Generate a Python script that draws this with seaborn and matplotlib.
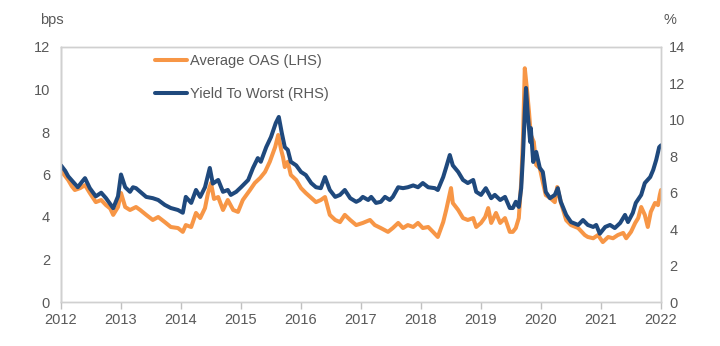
import matplotlib
matplotlib.use("Agg")
import matplotlib.pyplot as plt
import seaborn as sns
import pandas as pd

sns.set_style("white")
plt.rcParams["font.family"] = ["Liberation Sans", "DejaVu Sans"]

# Average option-adjusted spread (left axis, bps), decimal-year dates
oas_dates = [
    2012.00, 2012.05, 2012.12, 2012.18, 2012.23, 2012.32, 2012.40, 2012.48, 2012.58, 2012.67,
    2012.75, 2012.82, 2012.87, 2012.95, 2013.00, 2013.07, 2013.15, 2013.25, 2013.32, 2013.42,
    2013.53, 2013.62, 2013.73, 2013.83, 2013.95, 2014.03, 2014.08, 2014.17, 2014.25, 2014.32,
    2014.40, 2014.45, 2014.50, 2014.55, 2014.62, 2014.70, 2014.78, 2014.87, 2014.95, 2015.03,
    2015.15, 2015.23, 2015.32, 2015.40, 2015.48, 2015.57, 2015.62, 2015.67, 2015.70, 2015.73,
    2015.78, 2015.83, 2015.92, 2016.00, 2016.08, 2016.17, 2016.25, 2016.33, 2016.40, 2016.48,
    2016.57, 2016.65, 2016.73, 2016.82, 2016.92, 2017.03, 2017.15, 2017.23, 2017.33, 2017.45,
    2017.53, 2017.62, 2017.70, 2017.78, 2017.87, 2017.95, 2018.03, 2018.12, 2018.20, 2018.28,
    2018.37, 2018.42, 2018.50, 2018.53, 2018.62, 2018.70, 2018.78, 2018.87, 2018.92, 2019.00,
    2019.07, 2019.12, 2019.17, 2019.25, 2019.32, 2019.40, 2019.48, 2019.53, 2019.58, 2019.63,
    2019.67, 2019.70, 2019.73, 2019.77, 2019.80, 2019.83, 2019.88, 2019.92, 2019.98, 2020.03,
    2020.08, 2020.15, 2020.23, 2020.27, 2020.33, 2020.42, 2020.50, 2020.62, 2020.73, 2020.78,
    2020.87, 2020.95, 2021.03, 2021.12, 2021.20, 2021.28, 2021.37, 2021.42, 2021.50, 2021.57,
    2021.62, 2021.67, 2021.73, 2021.78, 2021.83, 2021.90, 2021.95, 2021.98, 2022.00,
]
oas_values = [
    6.15, 6.00, 5.74, 5.45, 5.27, 5.36, 5.50, 5.13, 4.70, 4.80,
    4.56, 4.40, 4.10, 4.47, 5.13, 4.47, 4.33, 4.47, 4.33, 4.10,
    3.86, 4.00, 3.76, 3.53, 3.48, 3.30, 3.62, 3.53, 4.19, 3.95,
    4.42, 5.13, 5.60, 4.85, 4.94, 4.33, 4.80, 4.33, 4.24, 4.80,
    5.27, 5.60, 5.84, 6.12, 6.60, 7.30, 7.86, 7.15, 6.82, 6.35,
    6.60, 5.98, 5.74, 5.36, 5.13, 4.90, 4.70, 4.80, 4.94, 4.10,
    3.86, 3.76, 4.10, 3.86, 3.62, 3.72, 3.86, 3.62, 3.48, 3.30,
    3.48, 3.72, 3.48, 3.62, 3.53, 3.72, 3.48, 3.53, 3.30, 3.06,
    3.76, 4.33, 5.36, 4.66, 4.33, 3.95, 3.86, 3.95, 3.53, 3.72,
    4.00, 4.42, 3.72, 4.19, 3.72, 3.95, 3.30, 3.30, 3.48, 3.95,
    5.64, 7.72, 11.00, 9.88, 8.94, 7.86, 7.53, 6.45, 6.30, 5.64,
    5.03, 4.90, 4.70, 5.41, 4.70, 3.85, 3.62, 3.48, 3.15, 3.06,
    3.00, 3.15, 2.82, 3.06, 3.00, 3.15, 3.25, 3.00, 3.30, 3.72,
    3.95, 4.47, 4.10, 3.53, 4.24, 4.66, 4.56, 5.03, 5.27,
]

# Yield to worst (right axis, %), decimal-year dates
ytw_dates = [
    2012.00, 2012.07, 2012.12, 2012.20, 2012.28, 2012.35, 2012.40, 2012.48, 2012.58, 2012.67,
    2012.75, 2012.87, 2012.95, 2013.00, 2013.07, 2013.15, 2013.20, 2013.25, 2013.32, 2013.42,
    2013.53, 2013.62, 2013.73, 2013.83, 2013.95, 2014.03, 2014.08, 2014.17, 2014.25, 2014.32,
    2014.40, 2014.48, 2014.53, 2014.62, 2014.70, 2014.78, 2014.83, 2014.92, 2015.00, 2015.12,
    2015.20, 2015.28, 2015.33, 2015.42, 2015.50, 2015.58, 2015.63, 2015.68, 2015.73, 2015.78,
    2015.83, 2015.92, 2016.00, 2016.08, 2016.17, 2016.25, 2016.33, 2016.40, 2016.48, 2016.57,
    2016.65, 2016.73, 2016.82, 2016.92, 2016.98, 2017.03, 2017.12, 2017.17, 2017.25, 2017.33,
    2017.40, 2017.48, 2017.53, 2017.62, 2017.70, 2017.78, 2017.87, 2017.95, 2018.03, 2018.12,
    2018.23, 2018.28, 2018.37, 2018.42, 2018.48, 2018.53, 2018.62, 2018.70, 2018.78, 2018.87,
    2018.92, 2019.00, 2019.08, 2019.17, 2019.23, 2019.32, 2019.40, 2019.48, 2019.53, 2019.58,
    2019.63, 2019.67, 2019.70, 2019.73, 2019.75, 2019.78, 2019.82, 2019.83, 2019.87, 2019.92,
    2019.98, 2020.03, 2020.08, 2020.15, 2020.23, 2020.28, 2020.33, 2020.42, 2020.50, 2020.62,
    2020.70, 2020.78, 2020.87, 2020.92, 2020.98, 2021.07, 2021.15, 2021.23, 2021.32, 2021.40,
    2021.45, 2021.53, 2021.58, 2021.67, 2021.73, 2021.82, 2021.87, 2021.92, 2021.97, 2022.00,
]
ytw_values = [
    7.50, 7.20, 6.90, 6.60, 6.30, 6.60, 6.80, 6.25, 5.80, 6.00,
    5.70, 5.15, 5.80, 7.00, 6.30, 6.05, 6.30, 6.25, 6.05, 5.77,
    5.70, 5.60, 5.33, 5.16, 5.05, 4.90, 5.77, 5.44, 6.15, 5.77,
    6.30, 7.36, 6.50, 6.70, 6.05, 6.15, 5.88, 6.05, 6.30, 6.70,
    7.36, 7.90, 7.70, 8.50, 9.06, 9.83, 10.16, 9.28, 8.50, 8.35,
    7.70, 7.50, 7.14, 6.97, 6.53, 6.30, 6.25, 6.86, 6.15, 5.77,
    5.88, 6.15, 5.70, 5.50, 5.60, 5.77, 5.60, 5.77, 5.44, 5.50,
    5.77, 5.60, 5.77, 6.30, 6.25, 6.30, 6.40, 6.30, 6.53, 6.30,
    6.25, 6.15, 6.86, 7.40, 8.07, 7.50, 7.14, 6.70, 6.53, 6.70,
    6.05, 5.88, 6.25, 5.70, 5.88, 5.60, 5.77, 5.16, 5.16, 5.50,
    5.22, 6.25, 8.07, 10.43, 11.75, 10.27, 8.79, 9.55, 7.69, 8.24,
    7.36, 7.14, 6.04, 5.70, 5.88, 6.25, 5.50, 4.78, 4.39, 4.23,
    4.50, 4.23, 4.12, 4.23, 3.75, 4.12, 4.23, 4.06, 4.34, 4.78,
    4.39, 4.89, 5.44, 5.88, 6.53, 6.86, 7.25, 7.80, 8.50, 8.60,
]

year_ticks = list(range(2012, 2023))
left_ticks = [0, 2, 4, 6, 8, 10, 12]
right_ticks = [0, 2, 4, 6, 8, 10, 12, 14]

oas_df = pd.DataFrame({"date": oas_dates, "value": oas_values})
ytw_df = pd.DataFrame({"date": ytw_dates, "value": ytw_values})

ORANGE = "#F79646"
NAVY = "#1F497D"
TXT = "#595959"
FS = 10.5

fig = plt.figure(figsize=(7.2, 3.46), dpi=100)
ax = fig.add_axes([61 / 720, 44 / 346, 600 / 720, 255 / 346])
ax2 = ax.twinx()

sns.lineplot(data=oas_df, x="date", y="value", ax=ax, color=ORANGE,
             linewidth=2.9, label="Average OAS (LHS)", legend=False)
sns.lineplot(data=ytw_df, x="date", y="value", ax=ax2, color=NAVY,
             linewidth=2.9, label="Yield To Worst (RHS)", legend=False)

ax.set_xlim(2012, 2022)
ax.set_ylim(0, 12)
ax2.set_ylim(0, 14)
ax.set_xticks(year_ticks)
ax.set_xticklabels([str(y) for y in year_ticks])
ax.set_yticks(left_ticks)
ax2.set_yticks(right_ticks)
ax.set_xlabel("")
ax.set_ylabel("")
ax2.set_ylabel("")

for a in (ax, ax2):
    for side in ("top", "right", "left", "bottom"):
        a.spines[side].set_visible(True)
        a.spines[side].set_color("#D0D0D0")
        a.spines[side].set_linewidth(1.0)
ax.spines["left"].set_color("#A6A6A6")

ax.tick_params(axis="x", direction="out", length=5, width=1, color="#BFBFBF",
               labelsize=FS, labelcolor=TXT, pad=3, bottom=True)
ax.tick_params(axis="y", length=0, labelsize=FS, labelcolor=TXT, pad=8)
ax2.tick_params(axis="y", length=0, labelsize=FS, labelcolor=TXT, pad=6)

fig.text(40 / 720, 1 - 20 / 346, "bps", fontsize=FS, color=TXT, ha="left", va="center")
fig.text(663 / 720, 1 - 20 / 346, "%", fontsize=FS, color=TXT, ha="left", va="center")

h1, l1 = ax.get_legend_handles_labels()
h2, l2 = ax2.get_legend_handles_labels()
leg = ax2.legend(h1 + h2, l1 + l2, loc="upper left", bbox_to_anchor=(0.135, 1.025),
                 frameon=False, fontsize=FS, labelspacing=1.3, handlelength=2.2,
                 handletextpad=0.2)
for t in leg.get_texts():
    t.set_color(TXT)

fig.savefig("out.png", dpi=100)
